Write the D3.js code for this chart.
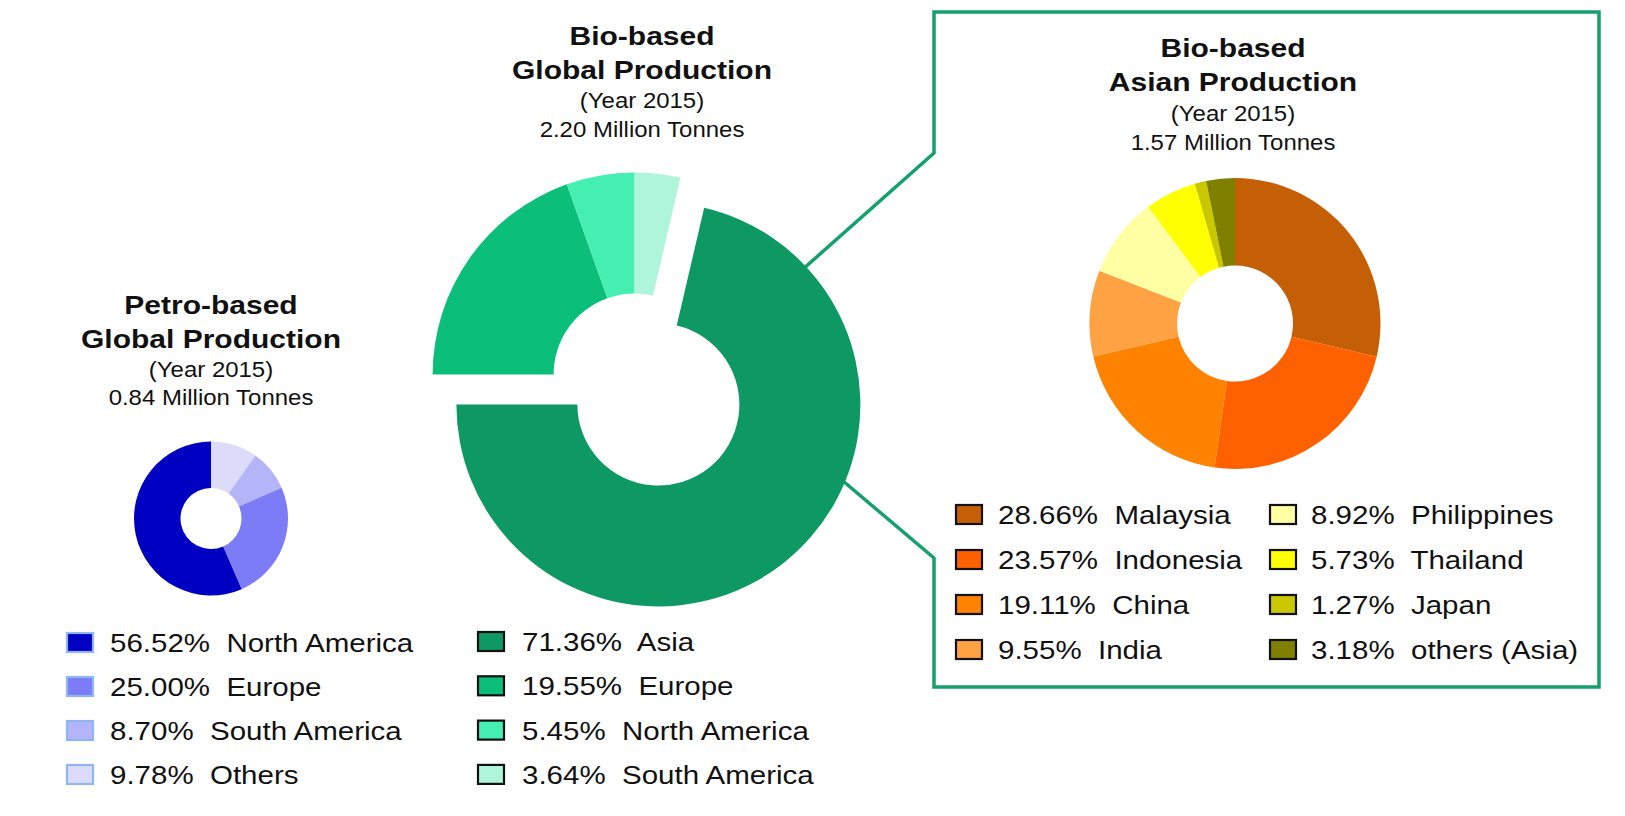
<!DOCTYPE html>
<html>
<head>
<meta charset="utf-8">
<script src="https://cdn.jsdelivr.net/npm/d3@7"></script>
<style>
  html, body { margin: 0; padding: 0; background: #fff; }
  svg text { font-family: "Liberation Sans", Arial, sans-serif; white-space: pre; }
</style>
</head>
<body>
<svg id="chart" width="1625" height="816"></svg>
<script>
// ---------- DATA ----------
const petroTitle = ["Petro-based", "Global Production", "(Year 2015)", "0.84 Million Tonnes"];
const petroLabels = ["North America", "Europe", "South America", "Others"];
const petroValues = [56.52, 25.00, 8.70, 9.78];
const petroColors = ["#0000c2", "#7c7cf6", "#b4b4f8", "#dcdcfa"];
const petroOrder = [3, 2, 1, 0]; // clockwise drawing order (indices into arrays)

const bioTitle = ["Bio-based", "Global Production", "(Year 2015)", "2.20 Million Tonnes"];
const bioLabels = ["Asia", "Europe", "North America", "South America"];
const bioValues = [71.36, 19.55, 5.45, 3.64];
const bioColors = ["#0e9964", "#0bbf7a", "#44efb1", "#aff5db"];
const bioOrder = [1, 2, 3, 0];

const asiaTitle = ["Bio-based", "Asian Production", "(Year 2015)", "1.57 Million Tonnes"];
const asiaLabels = ["Malaysia", "Indonesia", "China", "India", "Philippines", "Thailand", "Japan", "others (Asia)"];
const asiaValues = [28.66, 23.57, 19.11, 9.55, 8.92, 5.73, 1.27, 3.18];
const asiaColors = ["#c45f05", "#ff6100", "#ff8300", "#ffa243", "#ffffa4", "#ffff00", "#c9c700", "#7f7f00"];

// ---------- HELPERS ----------
const svg = d3.select("#chart");
const fmt = v => d3.format(".2f")(v) + "%";
const GREEN = "#16a06c";

function title(lines, cx, ys) {
  const g = svg.append("g");
  lines.forEach((t, i) => {
    const bold = i < 2;
    g.append("text")
      .attr("transform", `translate(${cx},${ys[i]}) scale(${bold ? 1.2 : 1.09},1)`)
      .attr("text-anchor", "middle")
      .attr("font-size", bold ? 25 : 22)
      .attr("font-weight", bold ? "bold" : "normal")
      .attr("fill", "#111")
      .text(t);
  });
}

function legend(labels, values, colors, x0, textX, y0, step, stroke, idx) {
  const g = svg.append("g");
  idx.forEach((i, r) => {
    const cy = y0 + r * step;
    g.append("rect")
      .attr("x", x0).attr("y", cy - 10)
      .attr("width", 26).attr("height", 19)
      .attr("fill", colors[i])
      .attr("stroke", stroke).attr("stroke-width", 2.2);
    g.append("text")
      .attr("transform", `translate(${textX},${cy + 9}) scale(1.18,1)`)
      .attr("font-size", 25)
      .attr("fill", "#111")
      .attr("xml:space", "preserve")
      .text(fmt(values[i]) + "  " + labels[i]);
  });
}

function makePie(order, start) {
  const rank = new Map(order.map((d, k) => [d, k]));
  return d3.pie()
    .value(i => 1)
    .startAngle(start).endAngle(start + 2 * Math.PI)
    .sortValues(null)
    .sort((a, b) => rank.get(a) - rank.get(b));
}

// ---------- BOX + CONNECTORS (behind bio donut) ----------
svg.append("path")
  .attr("d", d3.line()([[790, 280.6], [934, 153], [934, 12], [1599, 12], [1599, 687], [934, 687], [934, 558], [830, 470]]))
  .attr("fill", "none")
  .attr("stroke", GREEN)
  .attr("stroke-width", 3.5)
  .attr("stroke-linejoin", "miter");

// ---------- PETRO DONUT ----------
{
  const pie = d3.pie().value(i => petroValues[i]).sort(null);
  const ordered = petroOrder;
  const arcs = pie(ordered);
  const arc = d3.arc().innerRadius(30.5).outerRadius(77);
  svg.append("g").attr("transform", "translate(211,518.5)")
    .selectAll("path").data(arcs).join("path")
    .attr("d", arc)
    .attr("fill", d => petroColors[d.data]);
  title(petroTitle, 211, [314, 348, 377, 405]);
  legend(petroLabels, petroValues, petroColors, 67, 110, 643, 44, "#8fb6f2", [0, 1, 2, 3]);
}

// ---------- BIO GLOBAL DONUT (exploded) ----------
{
  const start = -Math.PI / 2;
  const pie = d3.pie().value(i => bioValues[i]).sort(null)
    .startAngle(start).endAngle(start + 2 * Math.PI);
  const arcs = pie(bioOrder);
  const arc = d3.arc().innerRadius(81).outerRadius(202);
  const cx = 646.5, cy = 389.5, off = 19.1;
  // groups: non-Asia slices move together, Asia moves opposite
  const asiaArc = arcs.find(d => d.data === 0);
  const others = arcs.filter(d => d.data !== 0);
  const groupMid = (d3.min(others, d => d.startAngle) + d3.max(others, d => d.endAngle)) / 2;
  const asiaMid = (asiaArc.startAngle + asiaArc.endAngle) / 2;
  const g = svg.append("g").attr("transform", `translate(${cx},${cy})`);
  g.selectAll("path").data(arcs).join("path")
    .attr("d", arc)
    .attr("fill", d => bioColors[d.data])
    .attr("transform", d => {
      const m = d.data === 0 ? asiaMid : groupMid;
      return `translate(${off * Math.sin(m)},${-off * Math.cos(m)})`;
    });
  title(bioTitle, 642, [44.5, 79, 108, 137]);
  legend(bioLabels, bioValues, bioColors, 478, 522, 642, 44.3, "#111", [0, 1, 2, 3]);
}

// ---------- ASIAN DONUT ----------
{
  const pie = d3.pie().value(i => asiaValues[i]).sort(null);
  const arcs = pie(d3.range(asiaValues.length));
  const arc = d3.arc().innerRadius(58).outerRadius(145.5);
  svg.append("g").attr("transform", "translate(1235,323.5)")
    .selectAll("path").data(arcs).join("path")
    .attr("d", arc)
    .attr("fill", d => asiaColors[d.data]);
  title(asiaTitle, 1233, [57, 91, 121, 150]);
  legend(asiaLabels, asiaValues, asiaColors, 956, 998, 515, 45, "#111", [0, 1, 2, 3]);
  legend(asiaLabels, asiaValues, asiaColors, 1270, 1311, 515, 45, "#111", [4, 5, 6, 7]);
}
</script>
</body>
</html>
